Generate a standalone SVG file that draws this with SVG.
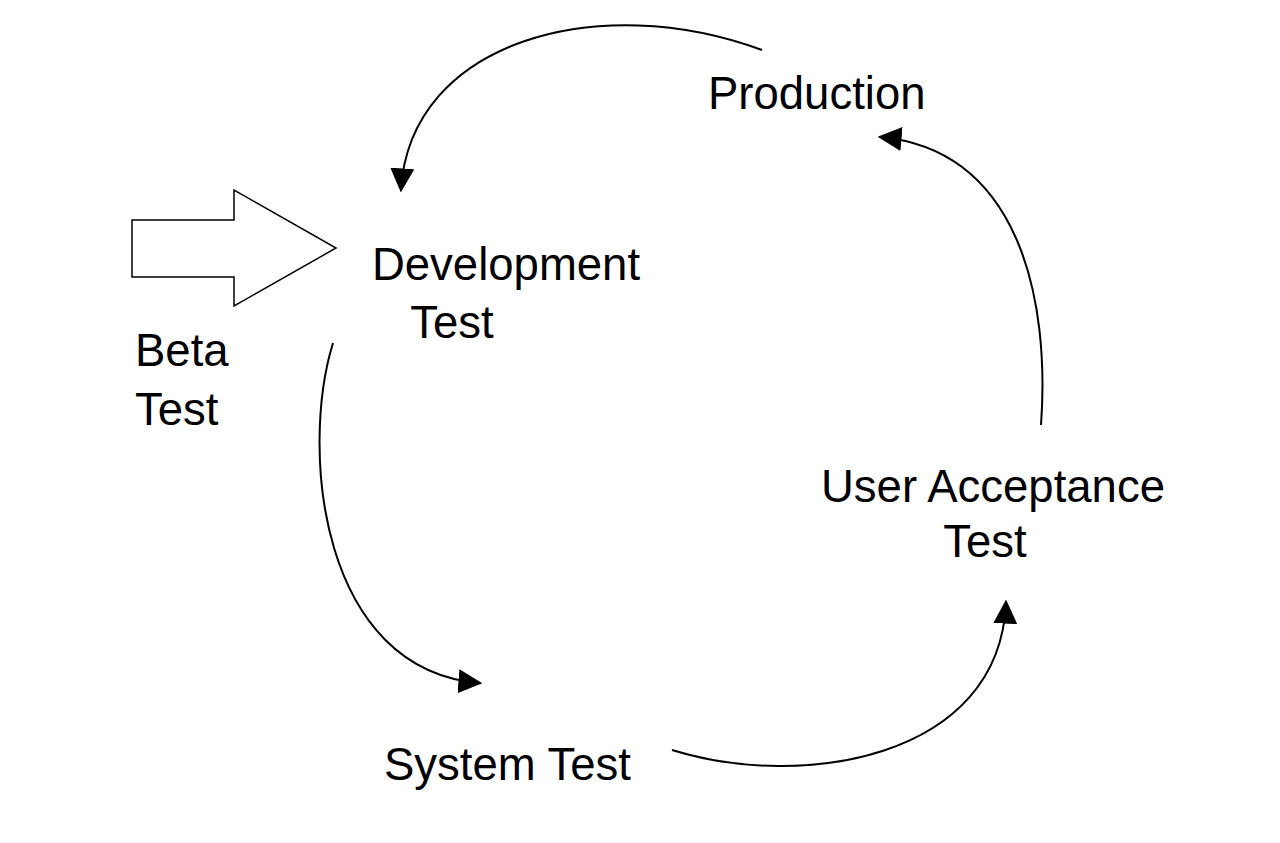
<svg xmlns="http://www.w3.org/2000/svg" width="1280" height="843" viewBox="0 0 1280 843">
<style>
text{font-family:"Liberation Sans",Arial,sans-serif;font-size:45.5px;fill:#000}
.c{fill:none;stroke:#000;stroke-width:2}
</style>
<defs><marker id="b" viewBox="0 0 10 10" refX="9" refY="5" markerWidth="24" markerHeight="24" markerUnits="userSpaceOnUse" orient="auto"><path d="M0,0L10,5L0,10z"/></marker></defs>
<rect width="1280" height="843" fill="#fff"/>
<g id="connectors">
<path class="c" d="M762,50 C600,-10 410,40 401,190" marker-end="url(#b)"/>
<path class="c" d="M333,343 C300,450 320,670 480,683" marker-end="url(#b)"/>
<path class="c" d="M672,750 C800,790 1000,760 1006,602" marker-end="url(#b)"/>
<path class="c" d="M1041,425 C1050,300 1020,150 880,137" marker-end="url(#b)"/>
</g>
<g id="beta-arrow"><path d="M132,220 H234 V190 L336,248 L234,306 V277 H132 Z" fill="#fff" stroke="#000" stroke-width="1.5"/></g>
<g id="production"><text x="708" y="109">Production</text></g>
<g id="dev"><text x="506" y="280" text-anchor="middle">Development</text><text x="452" y="338" text-anchor="middle">Test</text></g>
<g id="beta"><text x="135" y="366">Beta</text><text x="135" y="425">Test</text></g>
<g id="uat"><text x="993" y="502" text-anchor="middle">User Acceptance</text><text x="985" y="557" text-anchor="middle">Test</text></g>
<g id="system"><text x="384" y="780">System Test</text></g>
</svg>
